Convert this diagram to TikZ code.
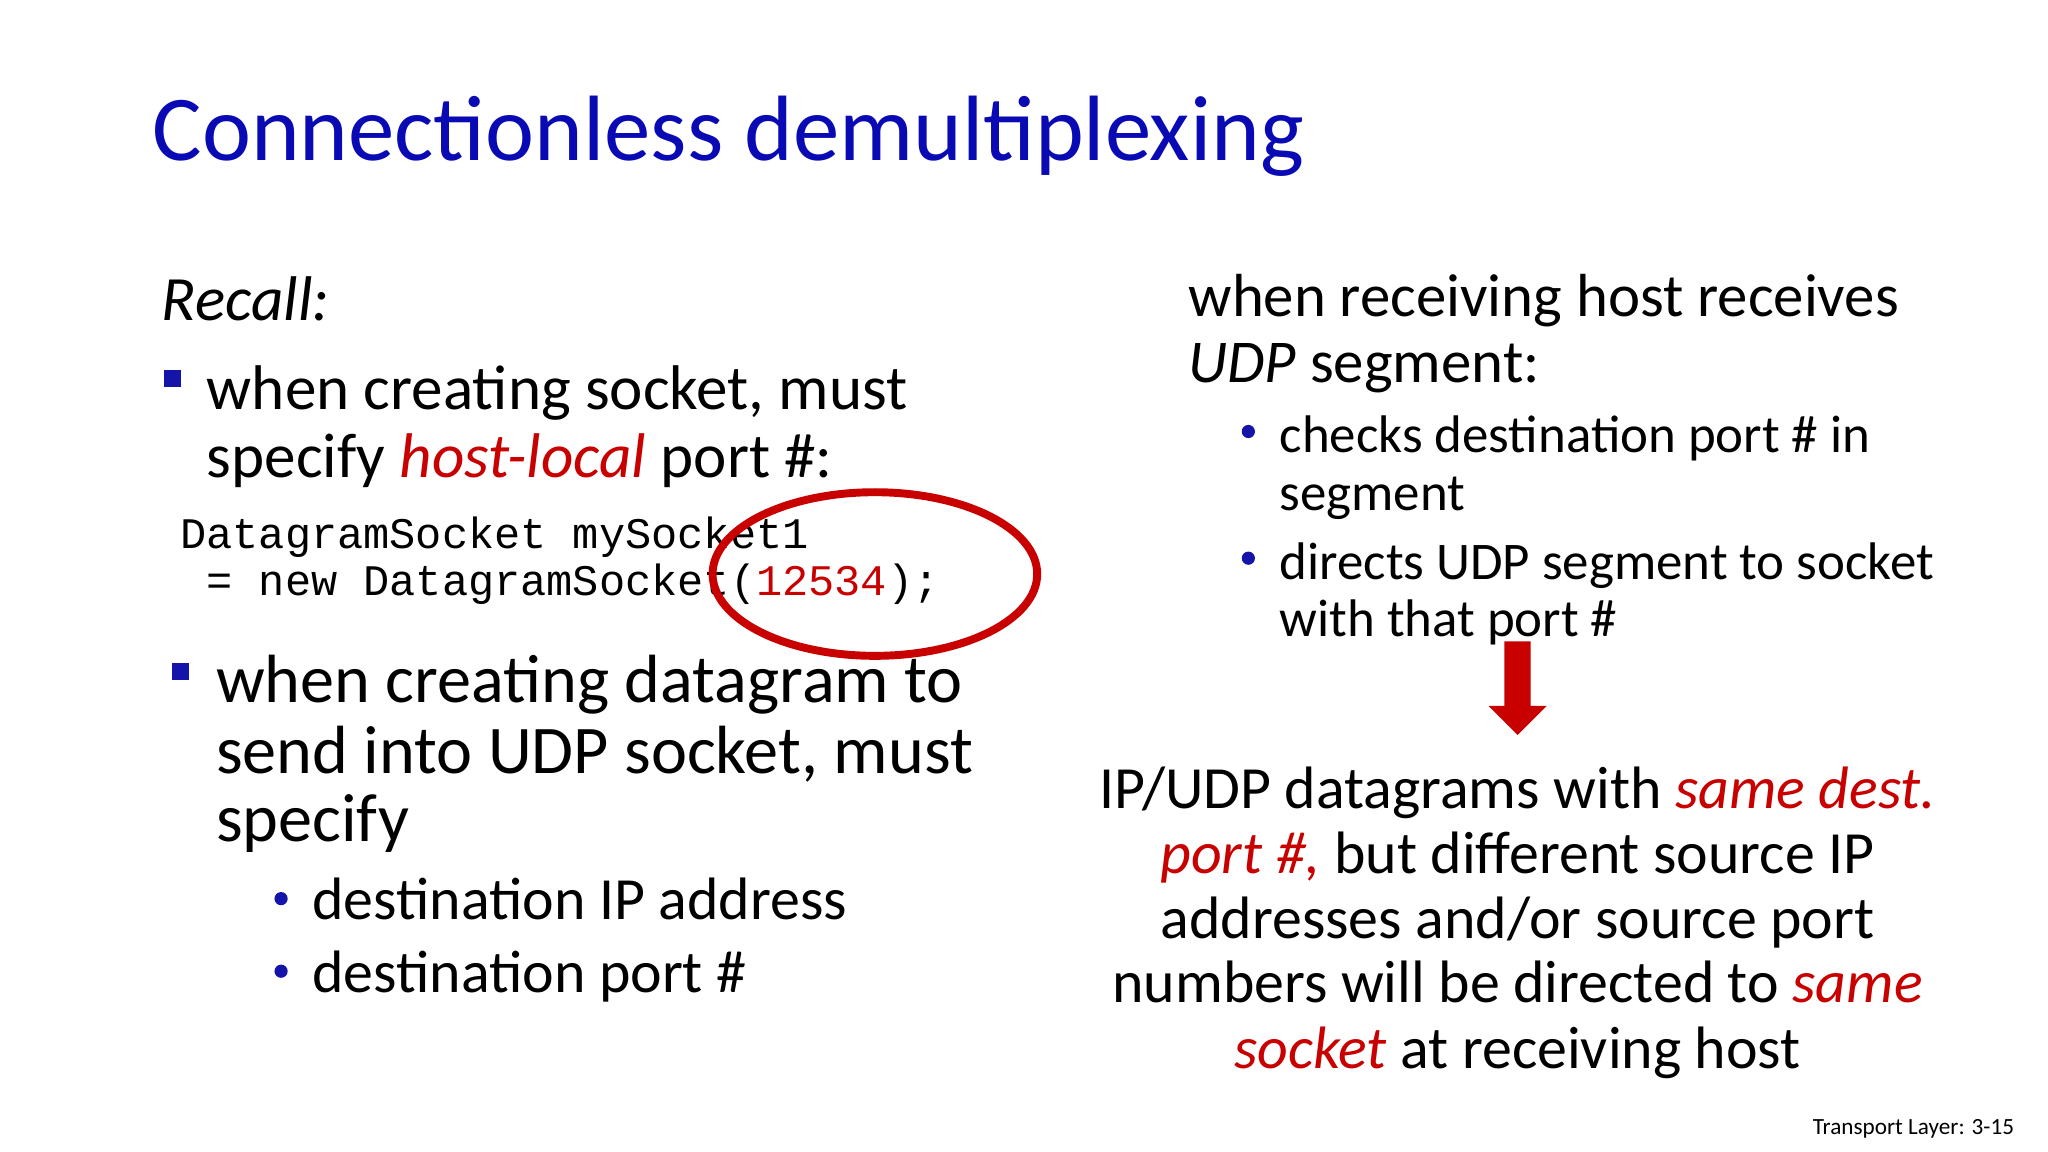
\documentclass[tikz,border=0pt]{standalone}
\usepackage{fontspec}
\setmainfont{Carlito}
\setmonofont{Liberation Mono}
\definecolor{ttl}{RGB}{10,10,180}
\definecolor{bul}{RGB}{20,20,170}
\definecolor{rd}{RGB}{200,0,0}
\begin{document}
\begin{tikzpicture}[x=0.01cm,y=-0.01cm,
  t/.style={inner sep=0,anchor=base west,font=\fontsize{13.6pt}{15pt}\selectfont},
  ts/.style={inner sep=0,anchor=base west,font=\fontsize{11.4pt}{13pt}\selectfont},
  tc/.style={inner sep=0,anchor=base,font=\fontsize{12.9pt}{15pt}\selectfont},
  cd/.style={inner sep=0,anchor=base west,font=\fontsize{9.4pt}{11pt}\ttfamily},
  sq/.style={fill=bul,minimum size=0.13cm,inner sep=0},
  dt/.style={fill=bul,circle,minimum size=0.1cm,inner sep=0}]
\useasboundingbox (0,0) rectangle (1552,873);
\node[inner sep=0,anchor=base west,text=ttl,font=\fontsize{20pt}{24pt}\selectfont] (title) at (115,122) {Connectionless demultiplexing};
\node[t] (recall) at (122,243) {\itshape Recall:};
\node[sq] (b1) at (131,287) {};
\node[t] (l1) at (156,310) {when creating socket, must};
\node[t] (l2) at (156,362) {specify \textcolor{rd}{\itshape host-local} port \#:};
\node[cd] (c1) at (136,416) {DatagramSocket mySocket1};
\node[cd] (c2) at (136,451) {\ = new DatagramSocket(\textcolor{rd}{12534});};
\draw[rd,line width=0.06cm] (663,435) ellipse [x radius=123,y radius=62];
\node[sq] (b2) at (137,509) {};
\node[t,font=\fontsize{14.7pt}{16pt}\selectfont] (m1) at (163,532) {when creating datagram to};
\node[t,font=\fontsize{14.7pt}{16pt}\selectfont] (m2) at (163,586) {send into UDP socket, must};
\node[t,font=\fontsize{14.7pt}{16pt}\selectfont] (m3) at (163,638) {specify};
\node[dt] (d1) at (213,681) {};
\node[t,font=\fontsize{12.9pt}{15pt}\selectfont] (s1) at (236,697) {destination IP address};
\node[dt] (d2) at (213,736) {};
\node[t,font=\fontsize{12.9pt}{15pt}\selectfont] (s2) at (236,752) {destination port \#};
\node[t,font=\fontsize{13.1pt}{15pt}\selectfont] (r1) at (900,240) {when receiving host receives};
\node[t,font=\fontsize{13.1pt}{15pt}\selectfont] (r2) at (900,290) {\itshape UDP\upshape\ segment:};
\node[dt] (d3) at (946,327) {};
\node[ts] (r3) at (969,343) {checks destination port \# in};
\node[ts] (r4) at (969,387) {segment};
\node[dt] (d4) at (946,423) {};
\node[ts] (r5) at (969,439) {directs UDP segment to socket};
\node[ts] (r6) at (969,482) {with that port \#};
\fill[rd] (1140,486) -- (1160,486) -- (1160,535) -- (1172,535) -- (1150,557) -- (1128,535) -- (1140,535) -- cycle;
\node[tc] (p1) at (1150,613) {IP/UDP datagrams with \textcolor{rd}{\itshape same dest.}};
\node[tc] (p2) at (1150,662) {\textcolor{rd}{\itshape port \#,} but different source IP};
\node[tc] (p3) at (1150,711) {addresses and/or source port};
\node[tc] (p4) at (1150,760) {numbers will be directed to \textcolor{rd}{\itshape same}};
\node[tc] (p5) at (1150,810) {\textcolor{rd}{\itshape socket} at receiving host};
\node[inner sep=0,anchor=base east,font=\fontsize{5pt}{6pt}\selectfont] (ft) at (1527,860) {Transport Layer: 3-15};
\end{tikzpicture}
\end{document}
